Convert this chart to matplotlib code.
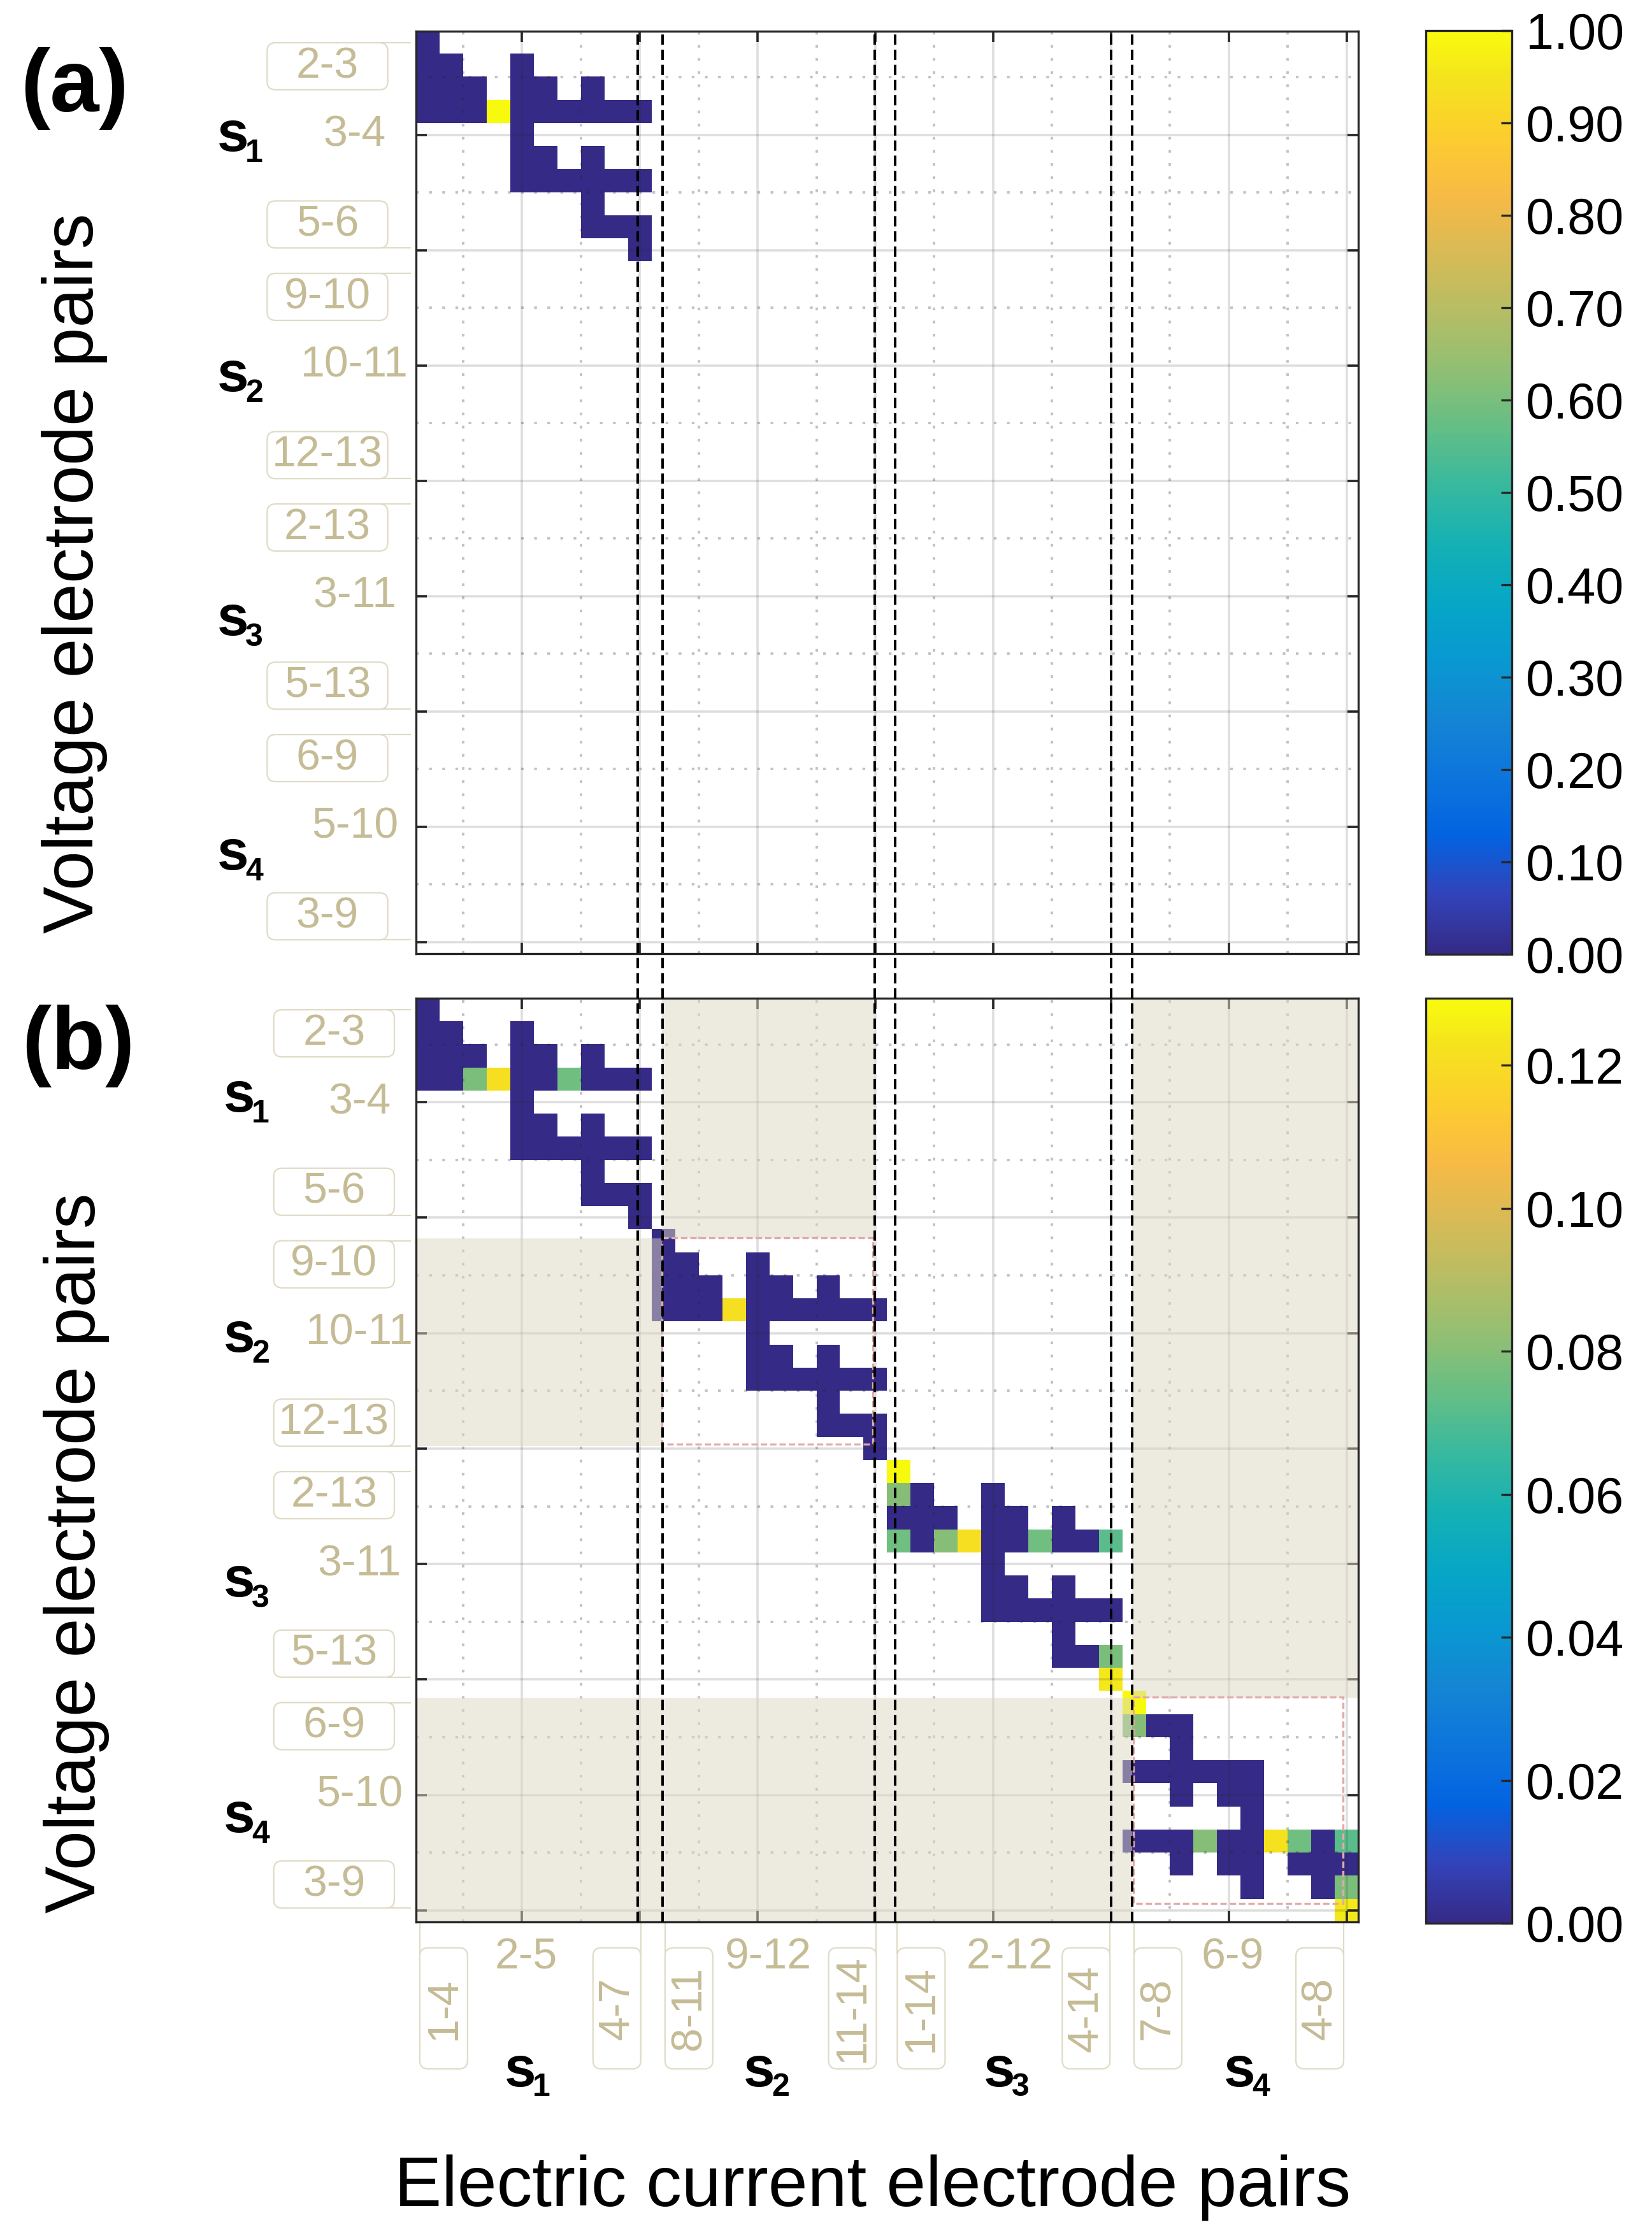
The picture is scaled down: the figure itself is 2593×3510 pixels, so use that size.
import numpy as np
import matplotlib
matplotlib.use("Agg")
import matplotlib.pyplot as plt
import matplotlib.transforms as mtransforms
from matplotlib.colors import LinearSegmentedColormap
from matplotlib.patches import FancyBboxPatch, Rectangle
from matplotlib.lines import Line2D

plt.rcParams["font.family"] = ["Liberation Sans", "DejaVu Sans"]

# ---------------- data ----------------
N = 40          # 40 voltage pairs x 40 current pairs
GROUP = 10      # pairs per sensor group s1..s4

# lit columns (local index) in each local row of a 10x10 diagonal block
BLOCK_STD = [
    [0],
    [0, 1, 4],
    [0, 1, 2, 4, 5, 7],
    [0, 1, 2, 3, 4, 5, 6, 7, 8, 9],
    [4],
    [4, 5, 7],
    [4, 5, 6, 7, 8, 9],
    [7],
    [7, 8, 9],
    [9],
]
BLOCK_S4 = [
    [0],
    [0, 1, 2],
    [2],
    [0, 1, 2, 3, 4, 5],
    [2, 4, 5],
    [5],
    [0, 1, 2, 3, 4, 5, 6, 7, 8, 9],
    [2, 4, 5, 7, 8, 9],
    [5, 8, 9],
    [9],
]
PANEL_A_BLOCKS = [BLOCK_STD]
PANEL_B_BLOCKS = [BLOCK_STD, BLOCK_STD, BLOCK_STD, BLOCK_S4]

# (row, col, value) for cells that are not ~0
PANEL_A_HOT = [(3, 3, 1.00)]
PANEL_B_HOT = [
    (3, 2, 0.078), (3, 3, 0.121), (3, 6, 0.076),
    (13, 13, 0.121),
    (20, 20, 0.129), (21, 20, 0.080), (23, 20, 0.076), (23, 22, 0.080),
    (23, 23, 0.121), (23, 26, 0.076), (23, 29, 0.072), (28, 29, 0.078),
    (29, 29, 0.124),
    (30, 30, 0.129), (31, 30, 0.080), (36, 33, 0.080), (36, 36, 0.122),
    (36, 37, 0.076), (36, 39, 0.072), (38, 39, 0.078), (39, 39, 0.124),
]

CBAR_A_MAX = 1.0
CBAR_A_TICKS = [0.0, 0.1, 0.2, 0.3, 0.4, 0.5, 0.6, 0.7, 0.8, 0.9, 1.0]
CBAR_B_MAX = 0.1294
CBAR_B_TICKS = [0.0, 0.02, 0.04, 0.06, 0.08, 0.10, 0.12]

VOLTAGE_LABELS = [("2-3", "3-4", "5-6"), ("9-10", "10-11", "12-13"),
                  ("2-13", "3-11", "5-13"), ("6-9", "5-10", "3-9")]
CURRENT_LABELS = [("1-4", "2-5", "4-7"), ("8-11", "9-12", "11-14"),
                  ("1-14", "2-12", "4-14"), ("7-8", "6-9", "4-8")]
GROUP_NAMES = ["1", "2", "3", "4"]

# group separators and highlighted regions (in cell units)
DASH_X = [9.42, 10.48, 19.46, 20.35, 29.5, 30.4]
SHADE_B = [(10.45, 0, 19.45, 10.4), (0, 10.4, 10.45, 19.4),
           (30.4, 0, 40, 30.3), (0, 30.3, 30.4, 40)]
PINK_B = [(10.45, 10.38, 19.38, 19.3), (30.45, 30.25, 39.34, 39.2)]

# MATLAB parula (sampled)
PARULA = [
    (0.2081, 0.1663, 0.5292), (0.1959, 0.2645, 0.7279), (0.0117, 0.3875, 0.8820),
    (0.0498, 0.4586, 0.8641), (0.0793, 0.5200, 0.8312), (0.0343, 0.5966, 0.8199),
    (0.0228, 0.6535, 0.7768), (0.0843, 0.6928, 0.7062), (0.2178, 0.7250, 0.6193),
    (0.3953, 0.7459, 0.5244), (0.5709, 0.7485, 0.4494), (0.7184, 0.7411, 0.3905),
    (0.8507, 0.7299, 0.3360), (0.9739, 0.7314, 0.2666), (0.9880, 0.8066, 0.1794),
    (0.9589, 0.8949, 0.1132), (0.9763, 0.9831, 0.0538),
]
PARULA_POS = [0, 4, 8, 12, 16, 20, 24, 28, 32, 36, 40, 44, 48, 52, 56, 60, 63]

LABEL_C = "#c5bc96"
BOX_EC = "#e0dbc6"
DARK = "#262626"
LABEL_FS = 49


def build(blocks, hot):
    m = np.full((N, N), np.nan)
    for g, block in enumerate(blocks):
        for r, cols in enumerate(block):
            for c in cols:
                m[g * GROUP + r, g * GROUP + c] = 0.0
    for r, c, v in hot:
        m[r, c] = v
    return m


cmap = LinearSegmentedColormap.from_list(
    "parula", [(p / 63, c) for p, c in zip(PARULA_POS, PARULA)], N=256)
cmap.set_bad((1, 1, 1, 0))

W, H, DPI = 2593, 3510, 100
fig = plt.figure(figsize=(W / DPI, H / DPI), dpi=DPI)
fig.patch.set_facecolor("white")


def px_axes(x0, y0, x1, y1):
    return fig.add_axes([x0 / W, 1 - y1 / H, (x1 - x0) / W, (y1 - y0) / H])


ax_a = px_axes(653, 49, 2132, 1497)
ax_b = px_axes(653, 1567, 2132, 3017)
cax_a = px_axes(2238, 48, 2373, 1498)
cax_b = px_axes(2238, 1567, 2373, 3019)


def style(ax):
    ax.set_xlim(0, N)
    ax.set_ylim(N, 0)
    major = np.arange(4.5, N, 5)
    minor = np.arange(2, N, 5)
    ax.set_xticks(major)
    ax.set_yticks(major)
    ax.set_xticks(minor, minor=True)
    ax.set_yticks(minor, minor=True)
    ax.tick_params(which="major", direction="in", length=12, width=2.6, color=DARK,
                   top=True, right=True, labelbottom=False, labelleft=False)
    ax.tick_params(which="minor", length=0)
    ax.set_axisbelow(False)
    ax.grid(which="major", color=DARK, alpha=0.15, lw=2.6)
    ax.grid(which="minor", color=DARK, alpha=0.28, lw=2.8, linestyle=(0, (1.1, 4.2)))
    for s in ax.spines.values():
        s.set_linewidth(2.4)
        s.set_color(DARK)
        s.set_zorder(6)


def rbox(ax, x0, y0, w, h, text, rotation=0):
    ax.add_patch(FancyBboxPatch((x0, y0), w, h, boxstyle="round,pad=0,rounding_size=0.009",
                                transform=ax.transAxes, fc="white", ec=BOX_EC, lw=1.6,
                                clip_on=False, zorder=5))
    ax.text(x0 + w / 2, y0 + h / 2, text, transform=ax.transAxes, ha="center", va="center",
            rotation=rotation, fontsize=LABEL_FS, color=LABEL_C, clip_on=False, zorder=6)


def leader(ax, xs, ys):
    ax.add_line(Line2D(xs, ys, transform=ax.transAxes, color=BOX_EC, lw=1.6,
                       clip_on=False, zorder=4))


def group_label(ax, x, y, name, sub_dx=44, sub_dy=-17):
    ax.text(x, y, "s", transform=ax.transAxes, ha="left", va="baseline",
            fontsize=64, fontweight="bold", color="black", clip_on=False)
    tr = mtransforms.offset_copy(ax.transAxes, fig=fig, x=sub_dx, y=sub_dy, units="dots")
    ax.text(x, y, name, transform=tr, ha="left", va="baseline",
            fontsize=36, fontweight="bold", color="black", clip_on=False)


def y_labels(ax, box_right, plain_x, group_x, group_base):
    bw, bh = 0.128, 0.051
    for g, (top, mid, bot) in enumerate(VOLTAGE_LABELS):
        y_top = 1 - (g * GROUP + 0.5) / N
        y_bot = 1 - (g * GROUP + 9.4) / N
        rbox(ax, box_right - bw, y_top - bh, bw, bh, top)
        leader(ax, [box_right - 0.008, -0.006], [y_top, y_top])
        rbox(ax, box_right - bw, y_bot, bw, bh, bot)
        leader(ax, [box_right - 0.008, -0.006], [y_bot, y_bot])
        ax.text(plain_x, 1 - (g * GROUP + 4.5) / N, mid, transform=ax.transAxes,
                ha="center", va="center", fontsize=LABEL_FS, color=LABEL_C, clip_on=False)
        group_label(ax, group_x, 1 - group_base[g] / N, GROUP_NAMES[g])


def x_labels(ax):
    bw, bh, top = 0.0507, 0.131, -0.028
    lefts = [0.16, 10.57, 20.43, 30.48]
    rights = [9.54, 19.54, 29.46, 39.38]
    mids = [4.68, 14.95, 25.2, 34.65]
    groups = [3.75, 13.9, 24.1, 34.3]
    for g, (first, mid, last) in enumerate(CURRENT_LABELS):
        xl = lefts[g] / N
        xr = rights[g] / N
        rbox(ax, xl, top - bh, bw, bh, first, rotation=90)
        leader(ax, [xl, xl], [top - 0.006, 0])
        rbox(ax, xr - bw, top - bh, bw, bh, last, rotation=90)
        leader(ax, [xr, xr], [top - 0.006, 0])
        ax.text(mids[g] / N, -0.038, mid, transform=ax.transAxes, ha="center",
                va="center", fontsize=LABEL_FS, color=LABEL_C, clip_on=False)
        group_label(ax, groups[g] / N, -0.178, GROUP_NAMES[g], sub_dx=44, sub_dy=-15)


panels = [
    (ax_a, cax_a, build(PANEL_A_BLOCKS, PANEL_A_HOT), CBAR_A_MAX, CBAR_A_TICKS),
    (ax_b, cax_b, build(PANEL_B_BLOCKS, PANEL_B_HOT), CBAR_B_MAX, CBAR_B_TICKS),
]
for ax, cax, mat, vmax, ticks in panels:
    style(ax)
    im = ax.imshow(mat, cmap=cmap, vmin=0, vmax=vmax, extent=(0, N, N, 0),
                   interpolation="nearest", aspect="auto", zorder=1)
    cb = fig.colorbar(im, cax=cax, ticks=ticks)
    cb.outline.set_linewidth(2.4)
    cb.outline.set_edgecolor(DARK)
    cb.ax.tick_params(direction="in", length=12, width=2.4, color=DARK,
                      labelsize=57, pad=16)
    cb.ax.set_yticklabels([f"{t:.2f}" for t in ticks])

# shaded cross-group regions and dashed boxes in (b)
for x0, y0, x1, y1 in SHADE_B:
    ax_b.add_patch(Rectangle((x0, y0), x1 - x0, y1 - y0, fc=(220 / 255, 214 / 255, 194 / 255),
                             alpha=0.5, ec="none", zorder=3))
for x0, y0, x1, y1 in PINK_B:
    ax_b.add_patch(Rectangle((x0, y0), x1 - x0, y1 - y0, fill=False, ec="#e2aaaa",
                             lw=2.4, linestyle=(0, (3.0, 1.4)), zorder=4))

y_labels(ax_a, -0.030, -0.065, -0.211, [5.2, 15.6, 26.2, 36.35])
y_labels(ax_b, -0.023, -0.060, -0.204, [4.9, 15.3, 25.9, 36.1])
x_labels(ax_b)

# dashed group separators spanning both panels
ax_over = px_axes(653, 49, 2132, 3017)
ax_over.set_xlim(0, N)
ax_over.set_ylim(0, 1)
ax_over.axis("off")
ax_over.vlines(DASH_X, 0, 1, colors="black", lw=2.9, linestyles=[(0, (4.0, 1.9))])

fig.text(117 / W, 1 - 139 / H, "(a)", ha="center", va="center", fontsize=100, fontweight="bold")
fig.text(123 / W, 1 - 1642 / H, "(b)", ha="center", va="center", fontsize=100, fontweight="bold")
fig.text(117 / W, 1 - 900 / H, "Voltage electrode pairs", rotation=90, ha="center",
         va="center", fontsize=80)
fig.text(120 / W, 1 - 2438 / H, "Voltage electrode pairs", rotation=90, ha="center",
         va="center", fontsize=80)
fig.text(1370 / W, 1 - 3463 / H, "Electric current electrode pairs", ha="center",
         va="baseline", fontsize=80)

fig.savefig("out.png", dpi=DPI)
